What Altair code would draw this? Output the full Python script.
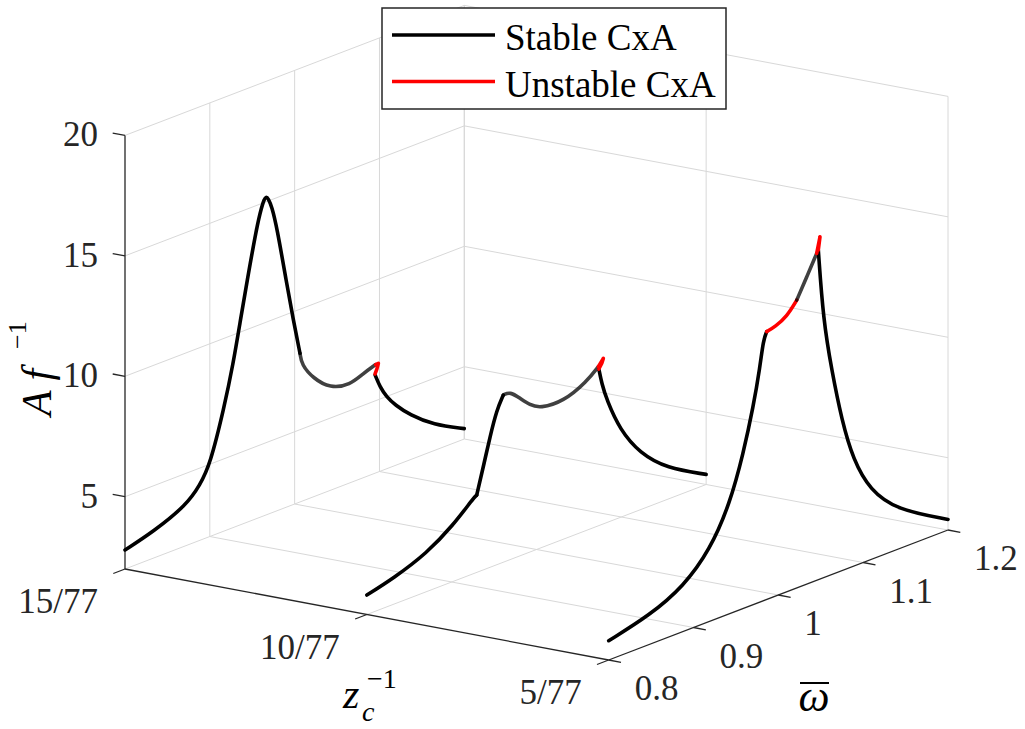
import altair as alt
import pandas as pd

W, H = 1025, 729
FONT = "Liberation Serif"

# ---------------- axis ranges & ticks ----------------
OM_MIN, OM_MAX = 0.8, 1.2
ZC_BACK, ZC_FRONT = 15 / 77, 5 / 77
A_MIN, A_MAX = 2, 20

A_TICKS = [5, 10, 15, 20]
A_LABELS = ["5", "10", "15", "20"]
ZC_TICKS = [15 / 77, 10 / 77, 5 / 77]
ZC_LABELS = ["15/77", "10/77", "5/77"]
OM_TICKS = [0.8, 0.9, 1.0, 1.1, 1.2]
OM_LABELS = ["0.8", "0.9", "1", "1.1", "1.2"]

CURVE_ZC = [15 / 77, 10 / 77, 5 / 77]
LEG_LABELS = ["Stable CxA", "Unstable CxA"]
LEG_COLORS = ["#000000", "#ff0000"]

# ---------------- curve data (omega, A f^-1) ----------------
# curve 1 : z_c^-1 = 15/77
C1A_OM = [0.800, 0.8334, 0.8727, 0.8884, 0.9002, 0.9167, 0.9277, 0.9356, 0.9435, 0.9553, 0.9612, 0.9640, 0.9662,
          0.9690, 0.973, 0.9789, 0.9906, 0.9984, 1.0063]
C1A_A = [2.79, 3.10, 3.68, 4.30, 4.97, 7.10, 8.83, 10.40, 11.93, 14.11, 14.87, 15.12, 15.22,
         15.10, 14.71, 13.80, 11.29, 9.66, 8.17]
C1B_OM = [1.0063, 1.0083, 1.022, 1.0418, 1.0653, 1.081, 1.0955]
C1B_A = [8.17, 7.66, 6.92, 6.24, 6.06, 6.33, 6.50]
C1C_OM = [1.0955, 1.0987, 1.097, 1.0948]
C1C_A = [6.50, 6.51, 6.30, 6.12]
C1D_OM = [1.0948, 1.1006, 1.1085, 1.1183, 1.136, 1.1635, 1.2]
C1D_A = [6.08, 5.50, 4.98, 4.52, 3.86, 3.08, 2.43]

# curve 2 : z_c^-1 = 10/77
C2A_OM = [0.8, 0.8312, 0.8706, 0.9019, 0.9255, 0.9295]
C2A_A = [2.81, 3.08, 3.59, 4.34, 5.13, 5.21]
C2B_OM = [0.9295, 0.9373, 0.9452, 0.9531, 0.9609]
C2B_A = [5.21, 6.28, 7.42, 8.42, 8.94]
C2C_OM = [0.9609, 0.9688, 0.9806, 0.9924, 1.0041, 1.0316, 1.0592, 1.0729]
C2C_A = [8.94, 8.97, 8.54, 8.10, 7.81, 7.71, 8.17, 8.61]
C2D_OM = [1.0729, 1.0788, 1.0770, 1.0735]
C2D_A = [8.61, 8.87, 8.70, 8.50]
C2E_OM = [1.0735, 1.0769, 1.0828, 1.0985, 1.122, 1.1535, 1.2]
C2E_A = [8.50, 7.86, 7.09, 5.63, 4.35, 3.30, 2.42]

# curve 3 : z_c^-1 = 5/77
C3A_OM = [0.8, 0.8487, 0.888, 0.9194, 0.943, 0.9587, 0.9705, 0.9784, 0.9823, 0.9863]
C3A_A = [2.80, 3.21, 3.86, 4.96, 6.58, 8.44, 10.22, 11.77, 12.82, 13.12]
C3B_OM = [0.9863, 0.9961, 1.0099, 1.0217]
C3B_A = [13.12, 13.19, 13.42, 13.95]
C3C_OM = [1.0217, 1.033, 1.0452]
C3C_A = [13.95, 14.72, 15.57]
C3D_OM = [1.0452, 1.0491, 1.0471]
C3D_A = [15.57, 16.21, 15.69]
C3E_OM = [1.0471, 1.053, 1.0629, 1.0747, 1.0884, 1.1081, 1.1396, 1.2]
C3E_A = [15.69, 12.70, 10.49, 8.26, 6.41, 4.90, 3.65, 2.44]

# (curve index, status index, faded?, fold tip?, omegas, amplitudes)
SEGMENTS = [
    (0, 0, 0, 0, C1A_OM, C1A_A), (0, 0, 1, 0, C1B_OM, C1B_A), (0, 1, 0, 1, C1C_OM, C1C_A),
    (0, 0, 0, 0, C1D_OM, C1D_A),
    (1, 0, 0, 0, C2A_OM, C2A_A), (1, 0, 0, 0, C2B_OM, C2B_A), (1, 0, 1, 0, C2C_OM, C2C_A),
    (1, 1, 0, 1, C2D_OM, C2D_A), (1, 0, 0, 0, C2E_OM, C2E_A),
    (2, 0, 0, 0, C3A_OM, C3A_A), (2, 1, 0, 0, C3B_OM, C3B_A), (2, 0, 1, 0, C3C_OM, C3C_A),
    (2, 1, 0, 1, C3D_OM, C3D_A), (2, 0, 0, 0, C3E_OM, C3E_A),
]

# ---------------- projection (style constants) ----------------
ORIGIN = (125.0, 569.0)
V_OM = (339.3, -130.0)
V_ZC = (483.7, 91.0)
V_A = (0.0, -433.6)


def proj(om, zc, a, k):
    u = f"(({om})-{OM_MIN})/{OM_MAX - OM_MIN}"
    v = f"({ZC_BACK}-({zc}))/{ZC_BACK - ZC_FRONT}"
    w = f"(({a})-{A_MIN})/{A_MAX - A_MIN}"
    return f"{ORIGIN[k]}+{V_OM[k]}*{u}+{V_ZC[k]}*{v}+{V_A[k]}*{w}"


P1 = dict(px=proj("datum.om", "datum.zc", "datum.a", 0), py=proj("datum.om", "datum.zc", "datum.a", 1))
P2 = dict(px2=proj("datum.om2", "datum.zc2", "datum.a2", 0), py2=proj("datum.om2", "datum.zc2", "datum.a2", 1))

XS = alt.Scale(domain=[0, W], range=[0, W], nice=False, zero=False)
YS = alt.Scale(domain=[0, H], range=[0, H], nice=False, zero=False)
X = alt.X("px:Q", scale=XS, axis=None)
Y = alt.Y("py:Q", scale=YS, axis=None)

# ---------------- grid ----------------
grid_rows = []
for om in OM_TICKS[1:]:
    grid_rows.append((om, ZC_BACK, A_MIN, om, ZC_BACK, A_MAX))
for a in A_TICKS:
    grid_rows.append((OM_MIN, ZC_BACK, a, OM_MAX, ZC_BACK, a))
for zc in ZC_TICKS:
    grid_rows.append((OM_MAX, zc, A_MIN, OM_MAX, zc, A_MAX))
for a in A_TICKS:
    grid_rows.append((OM_MAX, ZC_BACK, a, OM_MAX, ZC_FRONT, a))
for om in OM_TICKS[1:]:
    grid_rows.append((om, ZC_BACK, A_MIN, om, ZC_FRONT, A_MIN))
for zc in ZC_TICKS[:-1]:
    grid_rows.append((OM_MIN, zc, A_MIN, OM_MAX, zc, A_MIN))
grid_df = pd.DataFrame(grid_rows, columns=["om", "zc", "a", "om2", "zc2", "a2"])

grid = alt.Chart(grid_df).transform_calculate(**P1, **P2).mark_rule(
    color="#d8d8d8", strokeWidth=1
).encode(x=X, y=Y, x2="px2:Q", y2="py2:Q")

axes_df = pd.DataFrame([
    (OM_MIN, ZC_BACK, A_MIN, OM_MIN, ZC_BACK, A_MAX),
    (OM_MIN, ZC_BACK, A_MIN, OM_MIN, ZC_FRONT, A_MIN),
    (OM_MIN, ZC_FRONT, A_MIN, OM_MAX, ZC_FRONT, A_MIN),
], columns=["om", "zc", "a", "om2", "zc2", "a2"])
axes = alt.Chart(axes_df).transform_calculate(**P1, **P2).mark_rule(
    color="#262626", strokeWidth=1.3
).encode(x=X, y=Y, x2="px2:Q", y2="py2:Q")

# ticks: (om, zc, a, screen dx, screen dy)
TICK_A = (-12.3, -2.3)
TICK_ZC = (-11.7, 4.5)
TICK_OM = (12.3, 2.3)
tick_rows = []
for a in A_TICKS:
    tick_rows.append((OM_MIN, ZC_BACK, a) + TICK_A)
for zc in ZC_TICKS:
    tick_rows.append((OM_MIN, zc, A_MIN) + TICK_ZC)
for om in OM_TICKS:
    tick_rows.append((om, ZC_FRONT, A_MIN) + TICK_OM)
tick_df = pd.DataFrame(tick_rows, columns=["om", "zc", "a", "tdx", "tdy"])
ticks = alt.Chart(tick_df).transform_calculate(**P1).transform_calculate(
    px2="datum.px+datum.tdx", py2="datum.py+datum.tdy"
).mark_rule(color="#262626", strokeWidth=1.3).encode(x=X, y=Y, x2="px2:Q", y2="py2:Q")


# tick labels
def label_layer(df, **kw):
    return alt.Chart(df).transform_calculate(**P1).mark_text(
        font=FONT, fontSize=35, color="#262626", baseline="alphabetic", **kw
    ).encode(x=X, y=Y, text="lab:N")


a_lab = label_layer(pd.DataFrame({"om": OM_MIN, "zc": ZC_BACK, "a": A_TICKS, "lab": A_LABELS}),
                    align="right", dx=-27, dy=11)
zc_lab = label_layer(pd.DataFrame({"om": OM_MIN, "zc": ZC_TICKS, "a": A_MIN, "lab": ZC_LABELS}),
                     align="right", dx=-27, dy=44)
om_lab = label_layer(pd.DataFrame({"om": OM_TICKS, "zc": ZC_FRONT, "a": A_MIN, "lab": OM_LABELS}),
                     align="left", dx=26, dy=40)

# ---------------- curves ----------------
rows = []
for sid, (ci, st, faded, tip, oms, amps) in enumerate(SEGMENTS):
    for i, (om, a) in enumerate(zip(oms, amps)):
        rows.append(dict(seg=sid, i=i, om=om, zc=CURVE_ZC[ci], a=a,
                         status=LEG_LABELS[st], faded=faded, tip=tip))
curve_df = pd.DataFrame(rows)
COLOR = alt.Color("status:N", scale=alt.Scale(domain=LEG_LABELS, range=LEG_COLORS), legend=None)
OPAC = alt.Opacity("faded:N", scale=alt.Scale(domain=[0, 1], range=[1.0, 0.75]), legend=None)
curve_base = alt.Chart(curve_df).transform_calculate(**P1)
LINE_STYLE = dict(strokeWidth=3.6, strokeCap="round", strokeJoin="round")
curves_smooth = curve_base.transform_filter("datum.tip == 0").mark_line(
    interpolate="basis", **LINE_STYLE
).encode(x=X, y=Y, detail="seg:N", order="i:Q", color=COLOR, opacity=OPAC)
curves_tips = curve_base.transform_filter("datum.tip == 1").mark_line(
    interpolate="linear", **LINE_STYLE
).encode(x=X, y=Y, detail="seg:N", order="i:Q", color=COLOR, opacity=OPAC)


# ---------------- axis titles ----------------
def txt(s, x, y, size, style="italic", angle=0, align="left"):
    props = dict(font=FONT, fontSize=size, fontStyle=style, color="#000000",
                 align=align, baseline="alphabetic")
    if angle:
        props["angle"] = angle
    return alt.Chart(pd.DataFrame({"t": [s]})).mark_text(**props).encode(
        x=alt.value(x), y=alt.value(y), text="t:N")


Y_TITLE = ["A f", "\u22121"]
Z_TITLE = ["z", "c", "\u22121"]
OM_TITLE = "\u03c9"

one = pd.DataFrame({"k": [0]})
titles = [
    txt(Y_TITLE[0], 51, 416, 42, angle=270),
    txt(Y_TITLE[1], 26, 349, 26, style="normal", angle=270),
    txt(Z_TITLE[0], 343, 708, 42),
    txt(Z_TITLE[1], 362, 721, 28),
    txt(Z_TITLE[2], 367, 688, 28, style="normal"),
    txt(OM_TITLE, 814, 711, 44, align="center"),
    # overbar of omega
    alt.Chart(one).mark_rule(color="#000000", strokeWidth=2).encode(
        x=alt.value(800), x2=alt.value(829), y=alt.value(683)),
]

# ---------------- legend ----------------
legend_box = alt.Chart(one).mark_rect(fill="white", stroke="#262626", strokeWidth=1.5).encode(
    x=alt.value(382), x2=alt.value(726), y=alt.value(8), y2=alt.value(109))
legend_layers = [legend_box]
for i, (lab, col) in enumerate(zip(LEG_LABELS, LEG_COLORS)):
    ldf = pd.DataFrame({"t": [lab]})
    legend_layers.append(alt.Chart(ldf).mark_rule(color=col, strokeWidth=3.6).encode(
        x=alt.value(392), x2=alt.value(495), y=alt.value(35 + 46.5 * i)))
    legend_layers.append(alt.Chart(ldf).mark_text(
        font=FONT, fontSize=37, align="left", baseline="alphabetic", color="#000000"
    ).encode(x=alt.value(505), y=alt.value(50 + 46.5 * i), text="t:N"))

chart = alt.layer(
    grid, axes, ticks, a_lab, zc_lab, om_lab, curves_smooth, curves_tips, *titles, *legend_layers
).properties(
    width=W, height=H, padding=0, autosize=alt.AutoSizeParams(type="none"), background="white"
).configure_view(stroke=None)

chart.save("out.html", embed_options={"renderer": "svg", "actions": False})
